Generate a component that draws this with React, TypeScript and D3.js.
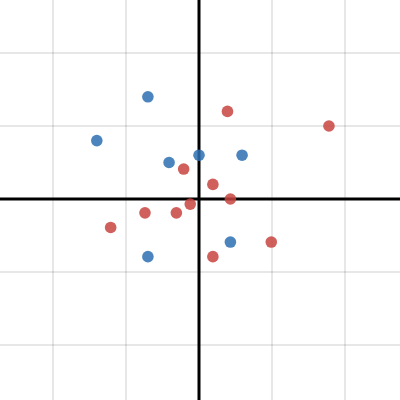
import React from "react";
import * as d3 from "d3";

// scatter points (graph units)
const blueX = [-0.7, -1.4, -0.41, 0, 0.59, 0.43, -0.7];
const blueY = [1.4, 0.8, 0.5, 0.6, 0.6, -0.59, -0.79];
const redX = [0.39, 1.78, -0.21, 0.19, 0.43, -0.12, -0.74, -0.31, -1.21, 0.99, 0.19];
const redY = [1.2, 1.0, 0.41, 0.2, 0, -0.07, -0.19, -0.19, -0.39, -0.59, -0.79];
const gridTicks = [-2, -1, 1, 2];

const width = 400;
const height = 400;
const unit = 73;
const cx = 199;
const cy = 199;

function App() {
  const x = d3.scaleLinear().domain([0, 1]).range([cx, cx + unit]);
  const y = d3.scaleLinear().domain([0, 1]).range([cy, cy - unit]);

  const blue = blueX.map((v, i) => [v, blueY[i]] as [number, number]);
  const red = redX.map((v, i) => [v, redY[i]] as [number, number]);

  return (
    <svg
      width={width}
      height={height}
      style={{ position: "absolute", left: 0, top: 0, background: "#fff" }}
    >
      <g stroke="#000" strokeOpacity={0.13} strokeWidth={1.5}>
        {gridTicks.map(t => (
          <line key={"v" + t} x1={x(t)} x2={x(t)} y1={0} y2={height} />
        ))}
        {gridTicks.map(t => (
          <line key={"h" + t} x1={0} x2={width} y1={y(t)} y2={y(t)} />
        ))}
      </g>
      <g stroke="#000" strokeWidth={3}>
        <line x1={x(0)} x2={x(0)} y1={0} y2={height} />
        <line x1={0} x2={width} y1={y(0)} y2={y(0)} />
      </g>
      <g fill="#2d70b3" fillOpacity={0.85}>
        {blue.map((d, i) => (
          <circle key={i} cx={x(d[0])} cy={y(d[1])} r={5.8} />
        ))}
      </g>
      <g fill="#c74440" fillOpacity={0.85}>
        {red.map((d, i) => (
          <circle key={i} cx={x(d[0])} cy={y(d[1])} r={5.8} />
        ))}
      </g>
    </svg>
  );
}

export default App;
